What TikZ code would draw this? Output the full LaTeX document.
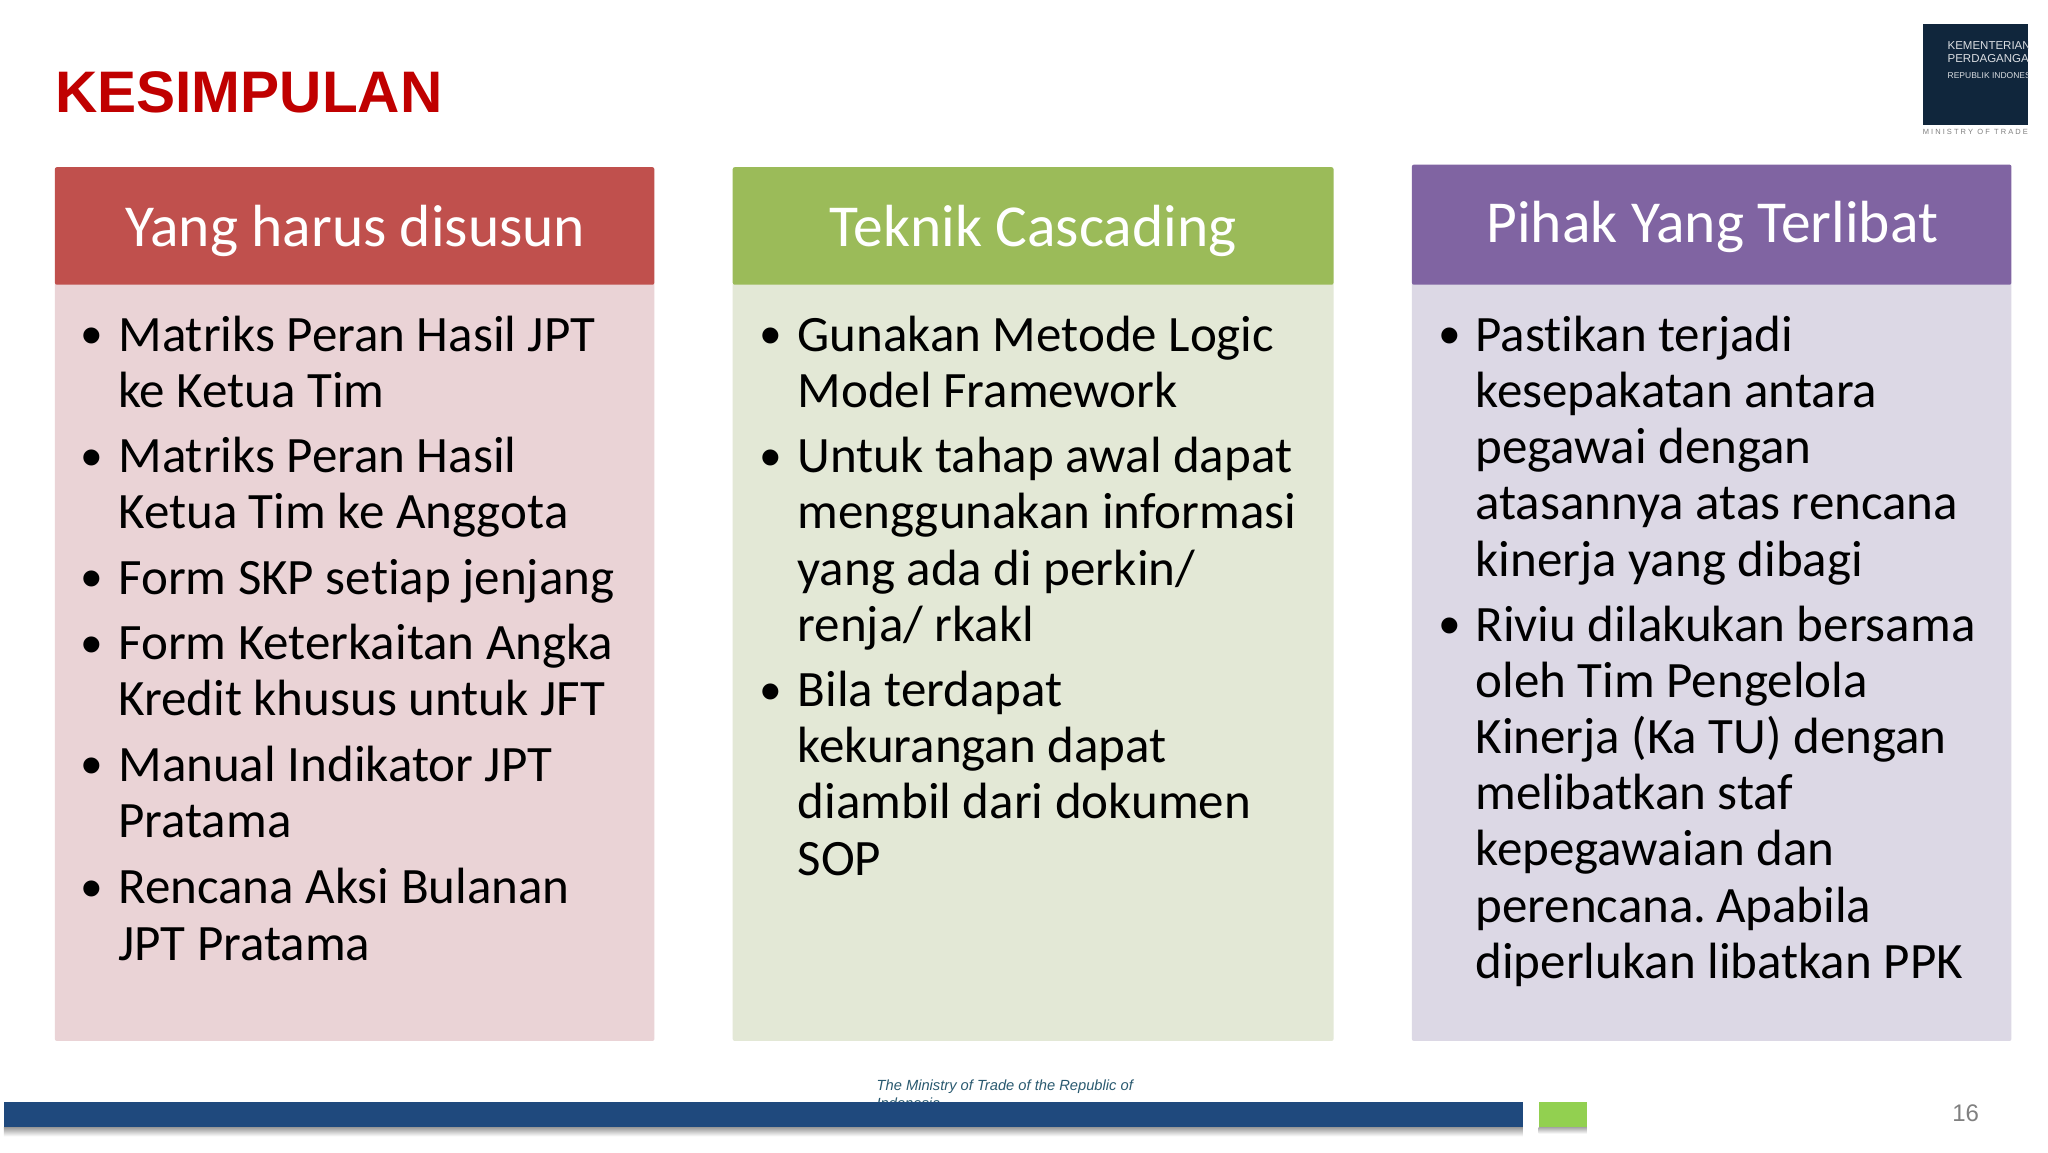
\documentclass[tikz,border=0pt]{standalone}
\usepackage{fontspec}
\setmainfont[Ligatures=NoCommon]{Carlito}
\newfontfamily\arialf{Liberation Sans}
\definecolor{redH}{HTML}{C0504D}
\definecolor{redB}{HTML}{EAD3D6}
\definecolor{greenH}{HTML}{9BBB59}
\definecolor{greenB}{HTML}{E3E8D6}
\definecolor{purpH}{HTML}{8064A2}
\definecolor{purpB}{HTML}{DCD8E5}
\definecolor{barblue}{HTML}{1F497D}
\definecolor{barlime}{HTML}{92D050}
\definecolor{footteal}{HTML}{2A5A70}
\definecolor{logobg}{HTML}{10263C}
\definecolor{titlered}{HTML}{C00000}
\tikzset{
  panelhead/.style={inner sep=0pt,outer sep=0pt,rounded corners=2pt},
  panelbody/.style={inner sep=0pt,outer sep=0pt,rounded corners=2pt},
  headtext/.style={text=white,font=\fontsize{59.5}{64}\selectfont,inner sep=0pt},
  linetext/.style={anchor=base west,inner sep=0pt,text=black,font=\fontsize{51}{54}\selectfont},
  bullettext/.style={anchor=base west,inner sep=0pt,text=black,font=\arialf\fontsize{59}{62}\selectfont},
  logotext/.style={anchor=base west,inner sep=0pt,text=white!85!logobg,font=\arialf\fontsize{11.5}{12}\selectfont},
}
\newcommand{\itemline}[4]{\node[linetext] (#1) at (#2+0.5,#3+1) {#4};}
\newcommand{\bulletmark}[3]{\node[bullettext] (#1) at (#2+1,#3+4.5) {•};}
\begin{document}
\begin{tikzpicture}[x=1.30612pt,y=-1.30612pt]
\useasboundingbox (0,0) rectangle (1568,882);
\fill[white] (0,0) rectangle (1568,882);
% title
\node[anchor=base west,inner sep=0pt,text=titlered,font=\arialf\bfseries\fontsize{58.6}{64}\selectfont] (title) at (42,86) {KESIMPULAN};
% logo
\begin{scope}
\clip (1470,16) rectangle (1553,104);
\fill[logobg] (1472,18) rectangle (1553,96);
\node[logotext] (logoa) at (1491,38) {KEMENTERIAN};
\node[logotext] (logob) at (1491,48) {PERDAGANGAN};
\node[logotext,font=\arialf\fontsize{8.5}{9}\selectfont] (logoc) at (1491,60) {REPUBLIK INDONESIA};
\node[anchor=base west,inner sep=0pt,text=gray,font=\arialf\fontsize{7.5}{8}\selectfont] (logod) at (1472,103) {M I N I S T R Y\ \ O F\ \ T R A D E};
\end{scope}
% panel 1
\fill[redB,panelbody] (42,216) rectangle (501,797);
\fill[redH,panelhead] (42,128) rectangle (501,218);
\node[headtext] (h1) at (272,177) {Yang harus disusun};
% panel 2
\fill[greenB,panelbody] (561,216) rectangle (1021,797);
\fill[greenH,panelhead] (561,128) rectangle (1021,218);
\node[headtext] (h2) at (791,177) {Teknik Cascading};
% panel 3
\fill[purpB,panelbody] (1081,216) rectangle (1540,797);
\fill[purpH,panelhead] (1081,126) rectangle (1540,218);
\node[headtext] (h3) at (1311,174) {Pihak Yang Terlibat};
% col 1
\bulletmark{b11}{61}{268}\itemline{a1}{90}{268}{Matriks Peran Hasil JPT}
\itemline{a2}{90}{311}{ke Ketua Tim}
\bulletmark{b12}{61}{361}\itemline{a3}{90}{361}{Matriks Peran Hasil}
\itemline{a4}{90}{404}{Ketua Tim ke Anggota}
\bulletmark{b13}{61}{454}\itemline{a5}{90}{454}{Form SKP setiap jenjang}
\bulletmark{b14}{61}{504}\itemline{a6}{90}{504}{Form Keterkaitan Angka}
\itemline{a7}{90}{547}{Kredit khusus untuk JFT}
\bulletmark{b15}{61}{597}\itemline{a8}{90}{597}{Manual Indikator JPT}
\itemline{a9}{90}{640}{Pratama}
\bulletmark{b16}{61}{691}\itemline{a10}{90}{691}{Rencana Aksi Bulanan}
\itemline{a11}{90}{734}{JPT Pratama}
% col 2
\bulletmark{b21}{581}{268}\itemline{c1}{610}{268}{Gunakan Metode Logic}
\itemline{c2}{610}{311}{Model Framework}
\bulletmark{b22}{581}{361}\itemline{c3}{610}{361}{Untuk tahap awal dapat}
\itemline{c4}{610}{404}{menggunakan informasi}
\itemline{c5}{610}{447}{yang ada di perkin/}
\itemline{c6}{610}{490}{renja/ rkakl}
\bulletmark{b23}{581}{540}\itemline{c7}{610}{540}{Bila terdapat}
\itemline{c8}{610}{583}{kekurangan dapat}
\itemline{c9}{610}{626}{diambil dari dokumen}
\itemline{c10}{610}{669}{SOP}
% col 3
\bulletmark{b31}{1101}{268}\itemline{d1}{1129}{268}{Pastikan terjadi}
\itemline{d2}{1129}{311}{kesepakatan antara}
\itemline{d3}{1129}{354}{pegawai dengan}
\itemline{d4}{1129}{397}{atasannya atas rencana}
\itemline{d5}{1129}{440}{kinerja yang dibagi}
\bulletmark{b32}{1101}{490}\itemline{d6}{1129}{490}{Riviu dilakukan bersama}
\itemline{d7}{1129}{533}{oleh Tim Pengelola}
\itemline{d8}{1129}{576}{Kinerja (Ka TU) dengan}
\itemline{d9}{1129}{619}{melibatkan staf}
\itemline{d10}{1129}{662}{kepegawaian dan}
\itemline{d11}{1129}{705}{perencana.\kern-2pt\ Apabila}
\itemline{d12}{1129}{748}{diperlukan libatkan PPK}
% footer
\node[anchor=base west,inner sep=0pt,text=footteal,font=\arialf\itshape\fontsize{14.7}{15}\selectfont] (fa) at (671,835) {The Ministry of Trade of the Republic of};
\node[anchor=base west,inner sep=0pt,text=footteal,font=\arialf\itshape\fontsize{14.7}{15}\selectfont] (fb) at (671,849) {Indonesia};
\shade[top color=gray!80,bottom color=white] (3,863) rectangle (1166,870);
\fill[barblue] (3,844) rectangle (1166,863);
\shade[top color=gray!70,bottom color=white] (1178,863) rectangle (1215,868);
\fill[barlime] (1178,844) rectangle (1215,863);
\node[inner sep=0pt,text=gray,font=\arialf\fontsize{24}{26}\selectfont] (page) at (1505,852) {16};
\end{tikzpicture}
\end{document}
